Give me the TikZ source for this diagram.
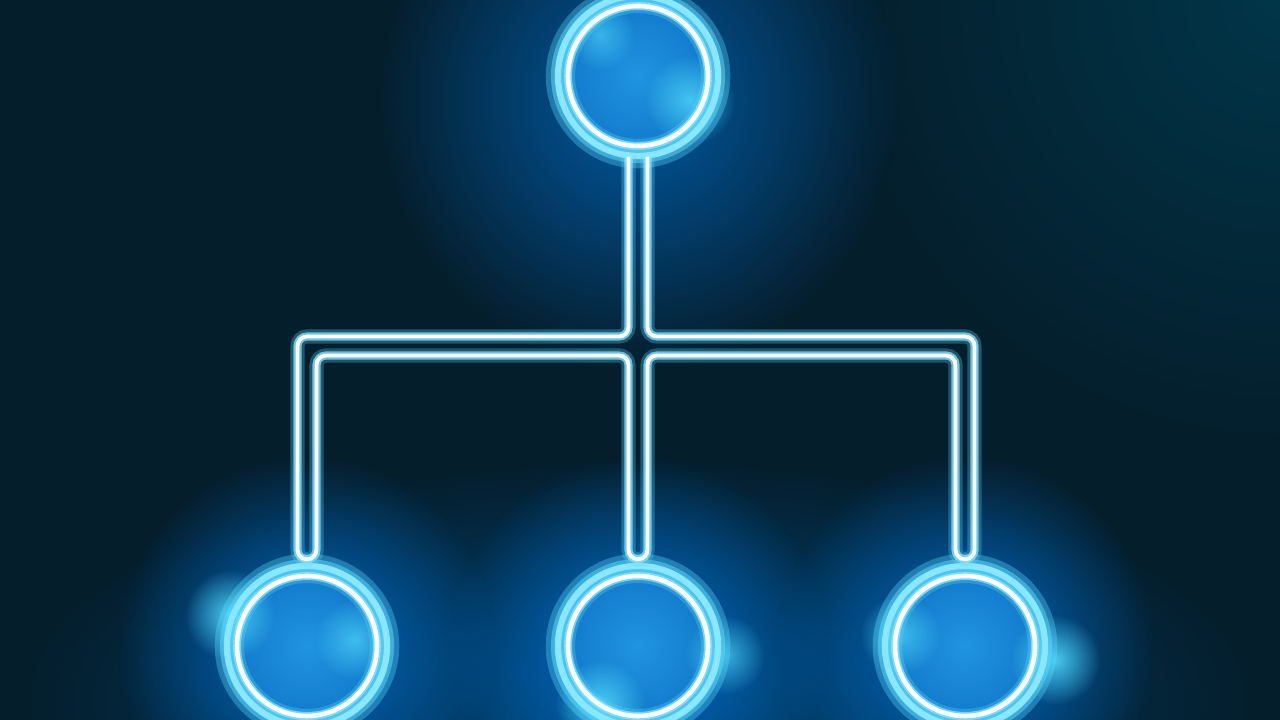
\documentclass[tikz,border=0pt]{standalone}
\usetikzlibrary{calc,fadings}
\definecolor{bgdark}{RGB}{5,30,44}
\definecolor{haloblue}{RGB}{0,110,205}
\definecolor{deepglow}{RGB}{0,75,130}
\definecolor{topteal}{RGB}{0,60,80}
\definecolor{ringcyan}{RGB}{90,220,255}
\definecolor{discin}{RGB}{32,148,225}
\definecolor{discout}{RGB}{16,120,200}
\definecolor{spotcyan}{RGB}{80,215,250}
\tikzfading[name=softglow, inner color=transparent!0, outer color=transparent!100]
\tikzset{
  halo/.style={fill=haloblue, path fading=softglow},
  spot/.style={fill=spotcyan, path fading=softglow},
  disc/.style={circle, minimum size=1.6cm, inner sep=0pt, shading=radial,
    inner color=discin, outer color=discout},
  neon/.style={draw=white, line width=1.1pt,
    preaction={draw=ringcyan, line width=4pt, opacity=.3},
    preaction={draw=ringcyan!70!white, line width=2.3pt, opacity=.75}},
  outerring/.style={draw=ringcyan!70!white, line width=1.8pt,
    preaction={draw=ringcyan, line width=7pt, opacity=.35},
    preaction={draw=ringcyan, line width=4pt, opacity=.5}},
  innerring/.style={neon, line width=1.3pt},
  tube/.style={neon, rounded corners=0.95mm}
}
\begin{document}
\begin{tikzpicture}
  \useasboundingbox (0,0) rectangle (12.8,7.2);
  \clip (0,0) rectangle (12.8,7.2);
  \fill[bgdark] (0,0) rectangle (12.8,7.2);
  % soft light behind the tree
  \fill[fill=topteal, path fading=softglow, opacity=.8] (12.8,7.2) circle [radius=4.5];
  \fill[halo, opacity=.75] (6.38,6.2) ellipse [x radius=2.6, y radius=2.7];
  \fill[fill=deepglow, path fading=softglow, opacity=.9] (6.38,0.2) ellipse [x radius=6.2, y radius=2.4];
  \foreach \x in {3.07,6.38,9.65}
    \fill[halo, opacity=.95] (\x,0.74) circle [radius=1.9];
  % nodes
  \node[disc] (root) at (6.38,6.44) {};
  \node[disc] (leafL) at (3.07,0.74) {};
  \node[disc] (leafM) at (6.38,0.74) {};
  \node[disc] (leafR) at (9.65,0.74) {};
  \coordinate (junction) at (6.38,3.74);
  % highlights
  \fill[spot, opacity=.8] (6.9,6.2) circle [radius=0.45];
  \fill[spot, opacity=.6] (6.0,6.85) circle [radius=0.35];
  \fill[spot, opacity=.9] (2.3,1.05) circle [radius=0.45];
  \fill[spot, opacity=.7] (3.55,0.8) circle [radius=0.4];
  \fill[spot, opacity=.9] (6.0,0.15) circle [radius=0.45];
  \fill[spot, opacity=.7] (7.25,0.65) circle [radius=0.4];
  \fill[spot, opacity=.7] (9.0,0.85) circle [radius=0.4];
  \fill[spot, opacity=.9] (10.55,0.6) circle [radius=0.45];
  % rings
  \foreach \n in {root,leafL,leafM,leafR} {
    \draw[outerring] (\n.center) circle [radius=0.8];
    \draw[innerring] (\n.center) circle [radius=0.7];
  }
  % connector tube
  \def\hw{0.95mm}
  \def\gap{0.6mm}
  \draw[tube] let \p1=(root.south), \p2=(leafL.north), \p3=(leafM.north),
      \p4=(leafR.north), \p5=(junction) in
    (\x1-\hw,\y1) -- (\x1-\hw,\y5+\hw) -- (\x2-\hw,\y5+\hw) -- (\x2-\hw,\y2+\gap)
    -- (\x2+\hw,\y2+\gap) -- (\x2+\hw,\y5-\hw) -- (\x3-\hw,\y5-\hw) -- (\x3-\hw,\y3+\gap)
    -- (\x3+\hw,\y3+\gap) -- (\x3+\hw,\y5-\hw) -- (\x4-\hw,\y5-\hw) -- (\x4-\hw,\y4+\gap)
    -- (\x4+\hw,\y4+\gap) -- (\x4+\hw,\y5+\hw) -- (\x1+\hw,\y5+\hw) -- (\x1+\hw,\y1);
\end{tikzpicture}
\end{document}
